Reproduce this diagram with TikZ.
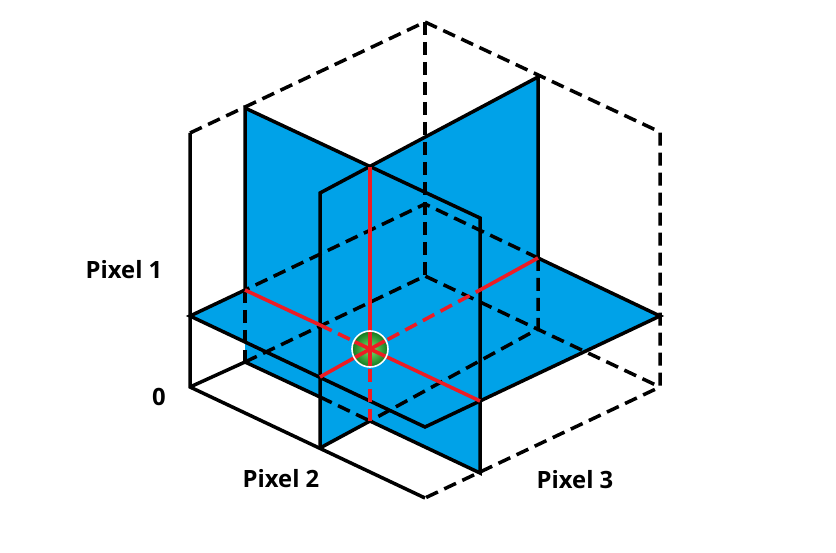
\documentclass[tikz,border=0pt]{standalone}
\usepackage{fontspec}
\setmainfont{Open Sans}
\usetikzlibrary{calc}
\definecolor{planoazul}{RGB}{0,162,232}
\definecolor{rojo}{RGB}{237,28,36}
\definecolor{verdeclaro}{RGB}{120,230,110}
\definecolor{verdeoscuro}{RGB}{20,120,30}

\begin{document}
\begin{tikzpicture}[x=1pt, y=-1pt, line width=3.5pt,
  oculto/.style={dash pattern=on 13pt off 7pt},
  corte/.style={rojo, line width=3.6pt},
  etiqueta/.style={font=\bfseries\fontsize{23.8}{28}\selectfont, anchor=base}]
  \useasboundingbox (0,0) rectangle (836,553);
  % Vertices del cubo
  \coordinate (o) at (190,387);
  \coordinate (oc) at (190,133);
  \coordinate (bc) at (425,22);
  \coordinate (abc) at (660,132);
  \coordinate (ab) at (660,387);
  \coordinate (a) at (425,498);
  \coordinate (b) at (425,276);
  % Plano horizontal (Pixel 1 constante)
  \coordinate (h1) at (190,316);
  \coordinate (h2) at (425,427);
  \coordinate (h3) at (660,316);
  \coordinate (h4) at (425,204);
  % Plano vertical (Pixel 3 constante)
  \coordinate (p3a) at (245,108);
  \coordinate (p3b) at (480,218);
  \coordinate (p3c) at (480,473);
  \coordinate (p3d) at (245,362);
  % Plano vertical (Pixel 2 constante)
  \coordinate (p2a) at (320,193);
  \coordinate (p2b) at (538,77);
  \coordinate (p2c) at (538,329);
  \coordinate (p2d) at (320,448);
  % Cortes entre planos
  \coordinate (c) at (370,349);
  \coordinate (v1) at (370,167);
  \coordinate (v2) at (370,421);
  \coordinate (i1) at (245,290);
  \coordinate (i2) at (320,325);
  \coordinate (i3) at (480,401);
  \coordinate (j1) at (320,377);
  \coordinate (j2) at (480,290);
  \coordinate (j3) at (538,258);
  \coordinate (k1) at (320,397);

  % Relleno de los planos
  \fill[planoazul] (h1) -- (h2) -- (h3) -- (h4) -- cycle;
  \fill[planoazul] (p3a) -- (p3b) -- (p3c) -- (p3d) -- cycle;
  \fill[planoazul] (p2a) -- (p2b) -- (p2c) -- (p2d) -- cycle;

  % Aristas del cubo
  \draw (oc) -- (o) -- (a);
  \draw (o) -- (p3d);
  \draw[oculto] (oc) -- (bc) -- (abc) -- (ab) -- (a);
  \draw[oculto] (bc) -- (b);
  \draw[oculto] (p3d) -- (b) -- (ab);

  % Bordes del plano horizontal
  \draw (i1) -- (h1) -- (h2) -- (h3) -- (j3);
  \draw[oculto] (j3) -- (h4) -- (i1);

  % Bordes del plano Pixel 3
  \draw (i1) -- (p3a) -- (p3b) -- (p3c) -- (v2);
  \draw (p3d) -- (k1);
  \draw[oculto] (k1) -- (v2);
  \draw[oculto] (i1) -- (p3d);

  % Bordes del plano Pixel 2
  \draw (p2d) -- (p2a) -- (p2b) -- (j3);
  \draw (p2d) -- (v2);
  \draw[oculto] (j3) -- (p2c) -- (v2);

  % Rectas de corte (rojas)
  \draw[corte] (v1) -- (c);
  \draw[corte, oculto] (c) -- (v2);
  \draw[corte] (i1) -- (i2);
  \draw[corte, oculto] (i2) -- (c);
  \draw[corte] (c) -- (i3);
  \draw[corte] (j1) -- (c);
  \draw[corte, oculto] (c) -- (j2);
  \draw[corte] (j2) -- (j3);

  % Punto de interseccion
  \shade[inner color=verdeclaro, outer color=verdeoscuro] (c) circle[radius=18pt];
  \draw[corte] ($(c)!17pt!(v1)$) -- ($(c)!17pt!(v2)$);
  \draw[corte] ($(c)!17pt!(i1)$) -- ($(c)!17pt!(i3)$);
  \draw[corte] ($(c)!17pt!(j1)$) -- ($(c)!17pt!(j3)$);
  \draw[white, line width=1.6pt] (c) circle[radius=18pt];

  % Etiquetas de los ejes
  \node[etiqueta] (pixel1) at (124,279) {Pixel 1};
  \node[etiqueta] (cero) at (159,406) {0};
  \node[etiqueta] (pixel2) at (281,487) {Pixel 2};
  \node[etiqueta] (pixel3) at (575,489) {Pixel 3};
\end{tikzpicture}
\end{document}
